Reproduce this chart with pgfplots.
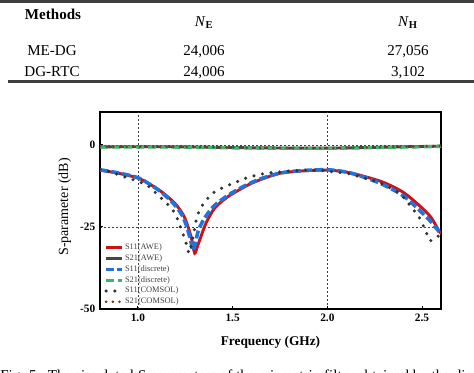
\documentclass[border=0pt]{standalone}
\usepackage{fontspec}
\setmainfont{Liberation Serif}
\usepackage{pgfplots}
\pgfplotsset{compat=1.18}
\definecolor{cred}{RGB}{200,20,25}
\definecolor{cgray}{RGB}{70,70,70}
\definecolor{cblue}{RGB}{35,115,220}
\definecolor{cgreen}{RGB}{60,180,110}
\definecolor{cdots}{RGB}{50,50,55}
\definecolor{cbrown}{RGB}{115,60,30}
\begin{document}
\begin{tikzpicture}
\useasboundingbox (0,0) rectangle (355.5pt,279pt);
\clip (0,0) rectangle (355.5pt,279pt);
\begin{scope}[x=0.75pt,y=0.75pt,every node/.style={font=\fontsize{11.3}{13}\selectfont}]
\fill[black!75] (0,369) rectangle (474,372);
\fill[black!75] (8,288.7) rectangle (474,292);
\node[anchor=base,font=\fontsize{11.3}{13}\selectfont\bfseries] at (53,352) {Methods};
\node[anchor=base] at (204,345.5) {\textit{N}\textsubscript{\bfseries E}};
\node[anchor=base] at (408,345.5) {\textit{N}\textsubscript{\bfseries H}};
\node[anchor=base] at (52,316) {ME-DG};
\node[anchor=base] at (204,316) {24,006};
\node[anchor=base] at (408,316) {27,056};
\node[anchor=base] at (52,295.5) {DG-RTC};
\node[anchor=base] at (204,295.5) {24,006};
\node[anchor=base] at (408,295.5) {3,102};
\node[anchor=base west,inner sep=0pt] at (0,-8.5) {Fig. 5.\ \ The simulated \textit{S}-parameters of the microstrip filter obtained by the discretization};
\end{scope}
\begin{axis}[
 at={(75pt,47.25pt)}, anchor=south west,
 scale only axis, width=255.75pt, height=147.75pt,
 xmin=0.8, xmax=2.6, ymin=-50, ymax=10,
 xtick={1.5,2.5}, extra x ticks={1,2}, extra x tick style={grid=major},
 ytick={-50,-25,0}, ymajorgrids,
 grid style={black!75, dash pattern=on 1.5pt off 1.5pt, line width=0.5pt},
 tick pos=left, tick align=inside, major tick length=2.5pt,
 axis line style={line width=1.1pt},
 every tick/.style={black, line width=0.8pt},
 /pgf/number format/assume math mode=true,
 xticklabel style={/pgf/number format/fixed, /pgf/number format/precision=1, /pgf/number format/fixed zerofill},
 ticklabel style={font=\fontsize{8.5}{10}\selectfont\bfseries},
 xlabel={Frequency (GHz)}, ylabel={S-parameter (dB)},
 xlabel style={at={(axis description cs:0.5,-0.183)}, anchor=base, font=\fontsize{10}{12}\selectfont\bfseries},
 ylabel style={at={(axis description cs:-0.103,0.518)}, anchor=center, font=\fontsize{10.5}{12}\selectfont},
 legend style={at={(0.01,0.34)}, anchor=north west, draw=none, fill=none, font=\fontsize{6.3}{7}\selectfont, text=black!75, row sep=0.6pt, inner sep=0.5pt, nodes={inner sep=0.8pt}},
 legend cell align=left,
 legend image code/.code={\draw[#1] (0pt,0pt) -- (12pt,0pt);},
]
\addplot[cred, line width=2.2pt, smooth, tension=0.5] coordinates {
(0.80,-7.7) (0.90,-8.7) (1.00,-10.1) (1.06,-11.9) (1.125,-14.3) (1.195,-17.8) (1.24,-21.4) (1.265,-25.0) (1.285,-29.0) (1.30,-33.0)
(1.315,-30.8) (1.33,-28.4) (1.36,-23.8) (1.405,-19.3) (1.475,-15.8) (1.563,-12.8) (1.616,-11.3) (1.70,-9.5) (1.763,-8.5) (1.88,-7.9) (2.00,-7.7)
(2.09,-8.2) (2.168,-9.2) (2.29,-11.3) (2.396,-14.3) (2.484,-18.4) (2.546,-22.0) (2.59,-26.3) (2.60,-26.8)};
\addlegendentry{S11(AWE)}
\addplot[cgray, line width=2.2pt, smooth] coordinates {
(0.80,-0.6) (1.20,-0.6) (1.60,-0.9) (2.00,-1.0) (2.30,-0.7) (2.60,-0.4)};
\addlegendentry{S21(AWE)}
\addplot[cblue, line width=2.7pt, dash pattern=on 6pt off 2.5pt, smooth, tension=0.5] coordinates {
(0.80,-7.6) (0.90,-8.6) (1.00,-10.0) (1.06,-11.9) (1.125,-14.5) (1.19,-18.0) (1.235,-21.6) (1.26,-25.3) (1.28,-29.5) (1.29,-32.2)
(1.305,-29.5) (1.32,-26.0) (1.35,-22.5) (1.40,-18.7) (1.475,-15.4) (1.56,-12.6) (1.65,-10.3) (1.76,-8.5) (1.88,-7.8) (2.00,-7.6)
(2.09,-8.2) (2.17,-9.4) (2.29,-12.0) (2.40,-15.5) (2.48,-19.6) (2.545,-23.3) (2.60,-27.2)};
\addlegendentry{S11(discrete)}
\addplot[cgreen, line width=2.4pt, dash pattern=on 6pt off 3pt] coordinates {
(0.80,-0.7) (1.20,-0.7) (1.60,-1.0) (2.00,-1.1) (2.30,-0.8) (2.60,-0.5)};
\addlegendentry{S21(discrete)}
\addplot[cdots, line width=2.6pt, line cap=round, dash pattern=on 0pt off 6.5pt, smooth, tension=0.4] coordinates {
(0.80,-7.5) (0.853,-8.2) (0.947,-10.1) (1.011,-11.3) (1.063,-12.9) (1.105,-15.3) (1.151,-17.7) (1.184,-19.9) (1.203,-21.7) (1.216,-23.8)
(1.23,-25.9) (1.245,-28.2) (1.258,-30.6) (1.27,-33.0) (1.282,-30.5) (1.295,-27.0) (1.31,-22.3) (1.335,-18.9) (1.37,-16.2) (1.405,-14.3)
(1.458,-12.8) (1.52,-11.3) (1.572,-10.1) (1.63,-9.2) (1.684,-8.6) (1.80,-8.0) (1.90,-7.7) (1.97,-7.8) (2.028,-8.2) (2.08,-8.5) (2.125,-8.9)
(2.168,-9.7) (2.217,-10.4) (2.265,-11.3) (2.305,-12.3) (2.344,-13.6) (2.383,-14.8) (2.417,-17.0) (2.449,-19.4) (2.481,-21.7) (2.502,-24.1)
(2.523,-26.8) (2.541,-29.2) (2.57,-28.2) (2.60,-27.5)};
\addlegendentry{S11(COMSOL)}
\addplot[cbrown, line width=2.2pt, line cap=round, dash pattern=on 0pt off 5pt] coordinates {
(0.80,-0.6) (1.20,-0.6) (1.60,-0.9) (2.00,-1.0) (2.30,-0.7) (2.60,-0.3)};
\addlegendentry{S21(COMSOL)}
\end{axis}
\end{tikzpicture}
\end{document}
